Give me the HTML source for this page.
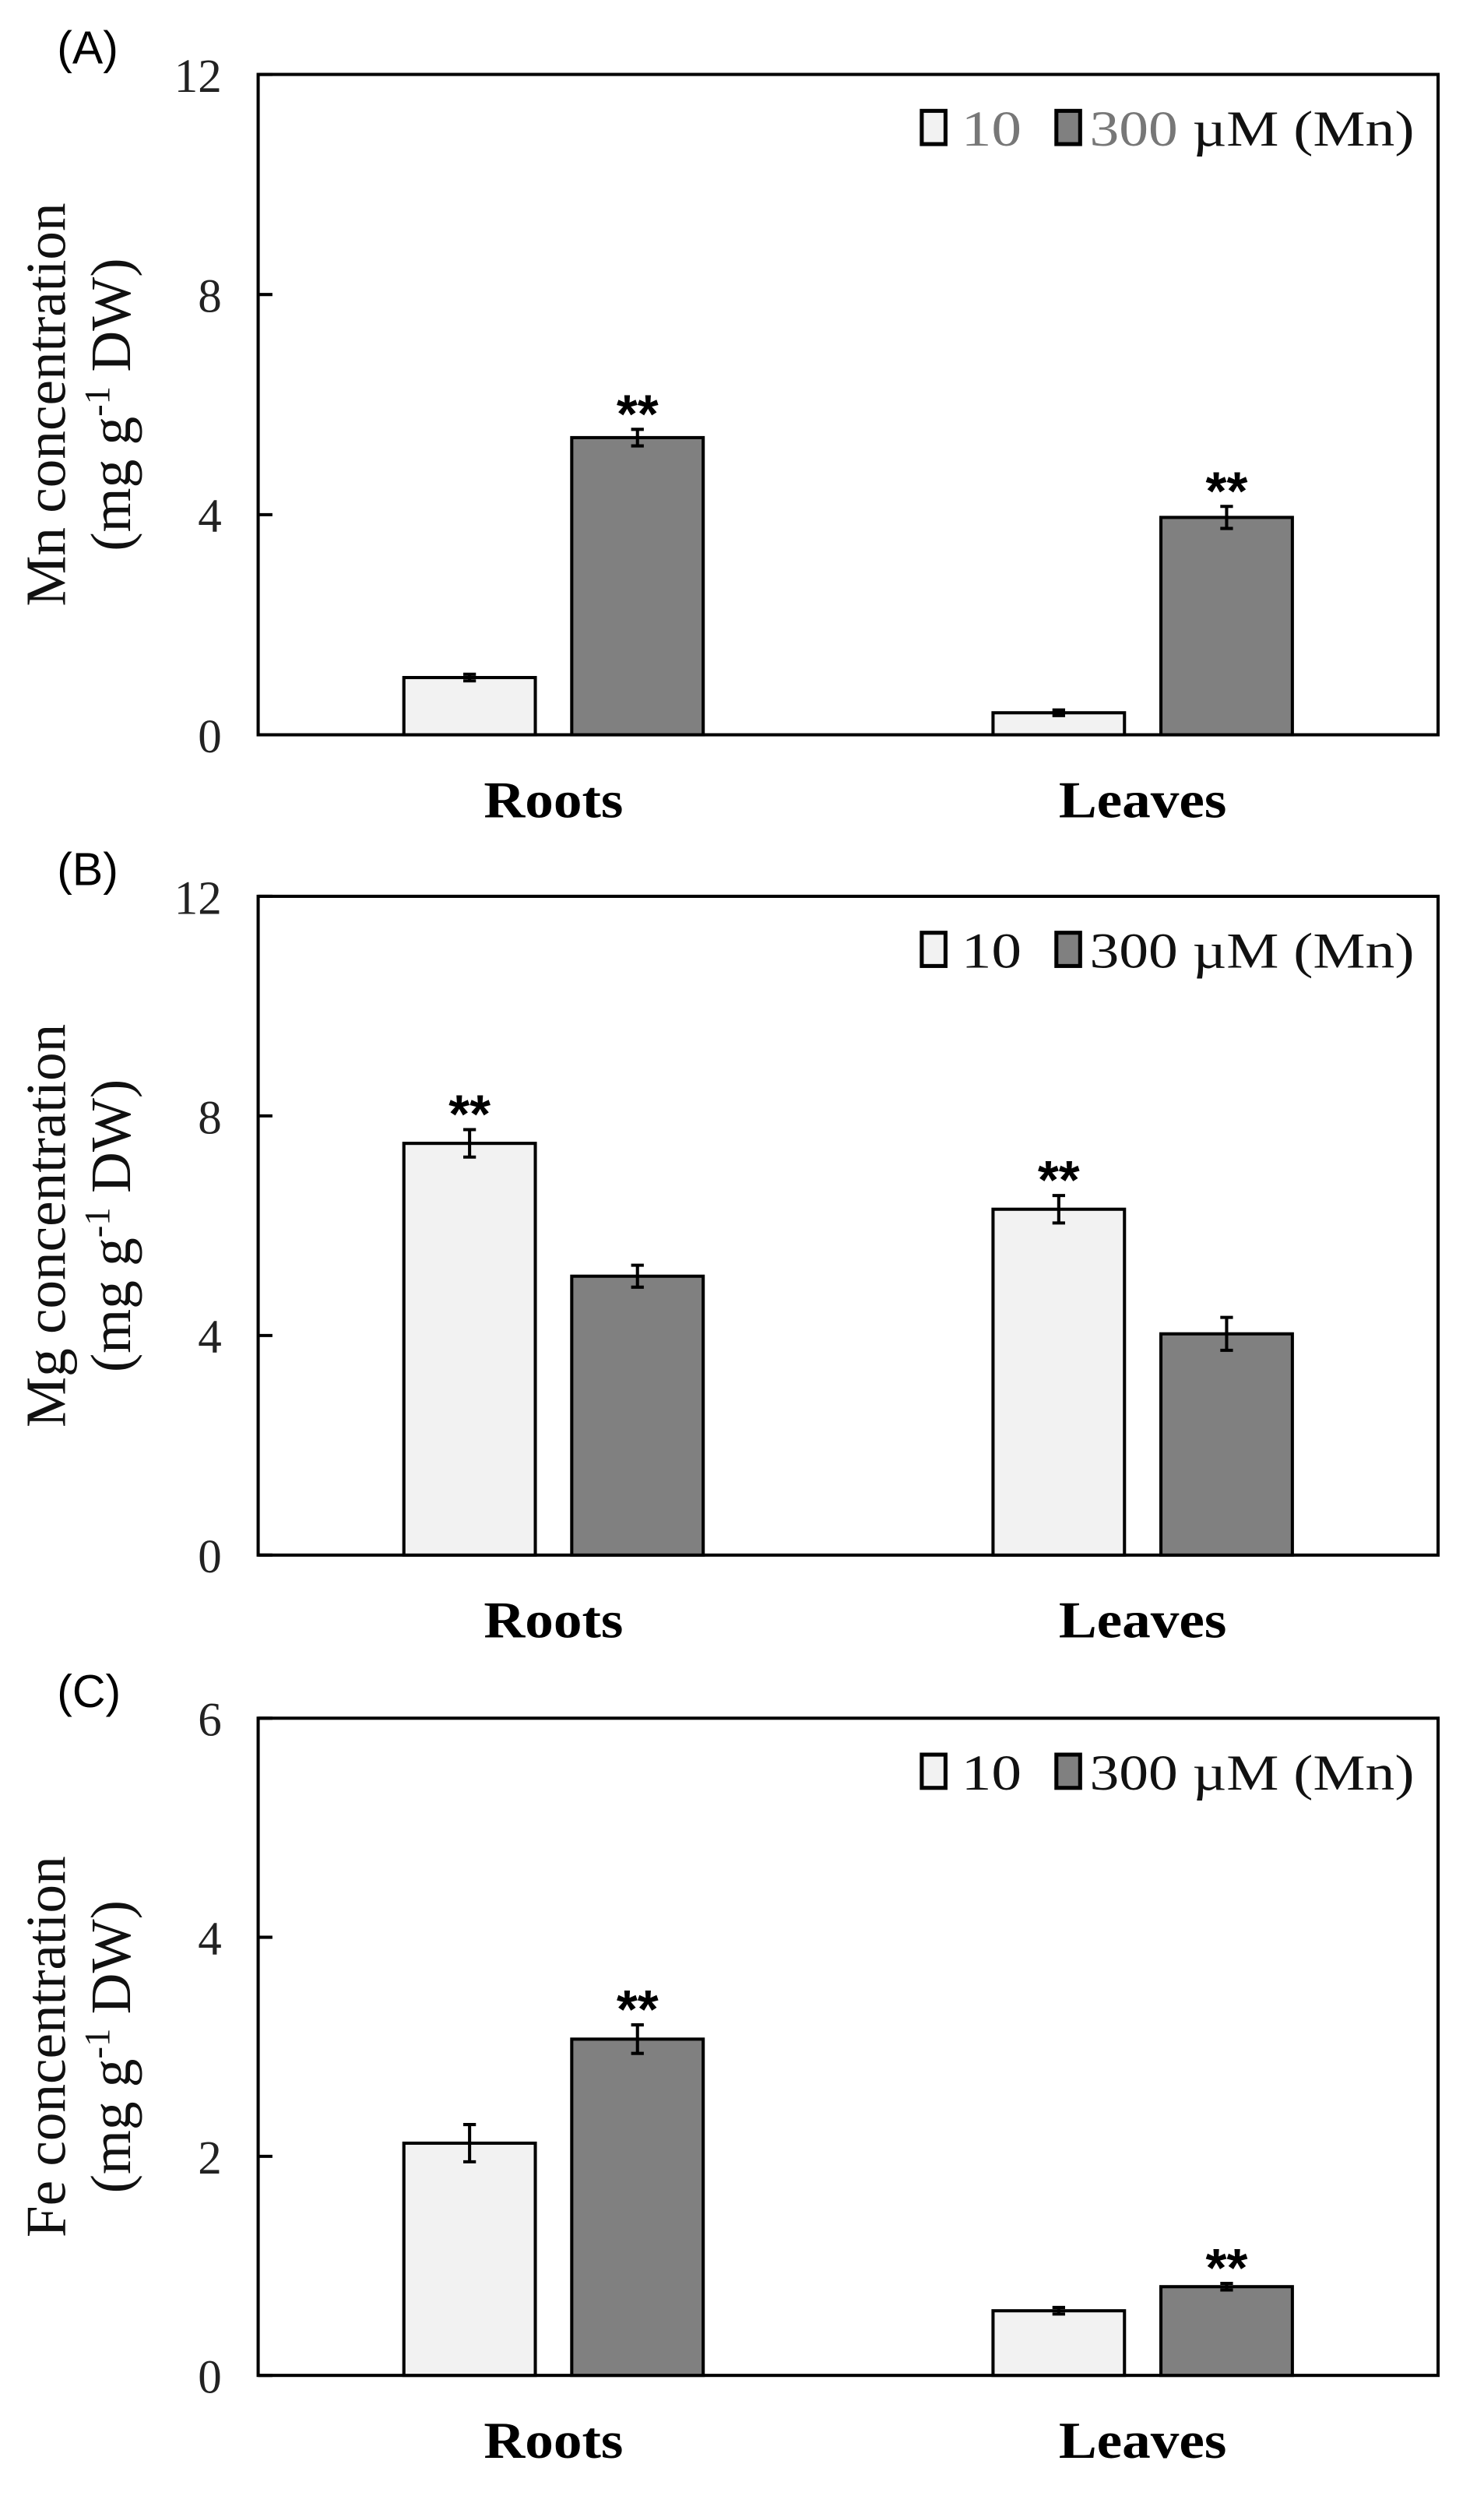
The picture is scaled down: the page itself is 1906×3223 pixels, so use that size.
<!DOCTYPE html>
<html><head><meta charset="utf-8"><style>html,body{margin:0;padding:0;background:#fff}svg{display:block}</style></head>
<body>
<svg id="fig" width="1906" height="3223" viewBox="0 0 937 1585" preserveAspectRatio="none" xmlns="http://www.w3.org/2000/svg"></svg>
<script>
const categories = ["Roots", "Leaves"];
const panelLabels = ["(A)", "(B)", "(C)"];
const yTitles = ["Mn concentration", "Mg concentration", "Fe concentration"];
const yMaxes = [12, 12, 6];
const tickLabelsA = [0, 4, 8, 12];
const tickLabelsB = [0, 4, 8, 12];
const tickLabelsC = [0, 2, 4, 6];
const lowA = [1.04, 0.4];   const highA = [5.4, 3.95];
const lowErrA = [0.06, 0.05]; const highErrA = [0.15, 0.2];
const lowB = [7.5, 6.3];    const highB = [5.08, 4.03];
const lowErrB = [0.25, 0.25]; const highErrB = [0.2, 0.3];
const lowC = [2.12, 0.59];  const highC = [3.07, 0.81];
const lowErrC = [0.17, 0.03]; const highErrC = [0.13, 0.03];
const starsLow = [[false,false],[true,true],[false,false]];
const starsHigh = [[true,true],[false,false],[true,true]];

const svg = document.getElementById('fig');
const NS = 'http://www.w3.org/2000/svg';
function mk(tag, attrs, parent, txt){
  const e = document.createElementNS(NS, tag);
  for (const k in attrs) e.setAttribute(k, attrs[k]);
  if (txt !== undefined) e.textContent = txt;
  (parent || svg).appendChild(e);
  return e;
}
const panels = [
  {top:47, bottom:464, ticks:tickLabelsA, low:lowA, high:highA, le:lowErrA, he:highErrA, legendGray:true},
  {top:566, bottom:982, ticks:tickLabelsB, low:lowB, high:highB, le:lowErrB, he:highErrB, legendGray:false},
  {top:1085, bottom:1500, ticks:tickLabelsC, low:lowC, high:highC, le:lowErrC, he:highErrC, legendGray:false}
];
const L = 163, R = 908;
const groupLeft = [255, 627];
const barW = 83, gap = 23;
const serif = '"Liberation Serif", serif';

panels.forEach((p, i) => {
  const g = mk('g', {});
  
  
  const y = v => p.bottom - v / yMaxes[i] * (p.bottom - p.top);

  const pl = mk('text', {x: 36, y: p.top - 7, 'font-family': '"Liberation Sans", sans-serif', 'font-size': 29}, g, panelLabels[i]);
  
  

  const fr = mk('rect', {x: L, y: p.top, width: R - L, height: p.bottom - p.top, fill: 'none', stroke: '#000', 'stroke-width': 2}, g);
  
  

  p.ticks.forEach(t => {
    const ty = y(t);
    const tl = mk('line', {x1: L, x2: L + 9, y1: ty, y2: ty, stroke: '#000', 'stroke-width': 2}, g);
    
    
    const tx = mk('text', {x: 140, y: ty + 11, 'text-anchor': 'end', 'font-family': serif, 'font-size': 30, fill: '#222'}, g, String(t));
    
    
  });

  const cy = (p.top + p.bottom) / 2;
  const t1 = mk('text', {x: 0, y: 0, transform: `translate(41 ${cy}) rotate(-90)`, 'text-anchor': 'middle', 'font-family': serif, 'font-size': 36, fill: '#111'}, g, yTitles[i]);
  
  
  const t2 = mk('text', {x: 0, y: 0, transform: `translate(82 ${cy}) rotate(-90)`, 'text-anchor': 'middle', 'font-family': serif, 'font-size': 36, fill: '#111'}, g);
  
  
  mk('tspan', {}, t2, '(mg g');
  mk('tspan', {dy: -13, 'font-size': 23}, t2, '-1');
  mk('tspan', {dy: 13}, t2, ' DW)');

  categories.forEach((c, k) => {
    const x0 = groupLeft[k];
    [[p.low[k], p.le[k], '#f2f2f2', starsLow[i][k], x0], [p.high[k], p.he[k], '#808080', starsHigh[i][k], x0 + barW + gap]].forEach((b, s) => {
      const [v, e, col, star, bx] = b;
      const r = mk('rect', {x: bx, y: y(v), width: barW, height: p.bottom - y(v), fill: col, stroke: '#000', 'stroke-width': 2}, g);
      
      
      const cx = bx + barW / 2;
      const eb = mk('path', {d: `M${cx} ${y(v + e)}V${y(v - e)}M${cx - 4} ${y(v + e)}H${cx + 4}M${cx - 4} ${y(v - e)}H${cx + 4}`, stroke: '#000', 'stroke-width': 2, fill: 'none'}, g);
      
      
      if (star) {
        const st = mk('text', {x: cx, y: y(v + e) + 2, 'text-anchor': 'middle', 'font-family': '"Liberation Sans", sans-serif', 'font-weight': 'bold', 'font-size': 34}, g, '**');
        
        
      }
    });
    const cl = mk('text', {x: x0 + barW + gap / 2, y: p.bottom + 52, 'text-anchor': 'middle', 'font-family': serif, 'font-weight': 'bold', 'font-size': 33, textLength: c === 'Roots' ? 88 : 106, lengthAdjust: 'spacingAndGlyphs'}, g, c);
    
    
  });

  const ly = p.top + 23;
  const lg = mk('g', {}, g);
  
  
  const s1 = mk('rect', {x: 582, y: ly, width: 15, height: 21, fill: '#f2f2f2', stroke: '#000', 'stroke-width': 2.5}, lg);
  
  
  const lt1 = mk('text', {x: 607, y: ly + 22, 'font-family': serif, 'font-size': 32, fill: p.legendGray ? '#777' : '#111', textLength: 38, lengthAdjust: 'spacingAndGlyphs'}, lg, '10');
  
  
  const s2 = mk('rect', {x: 667, y: ly, width: 15, height: 21, fill: '#808080', stroke: '#000', 'stroke-width': 2.5}, lg);
  
  
  const lt2 = mk('text', {x: 688, y: ly + 22, 'font-family': serif, 'font-size': 32, fill: '#111', textLength: 205, lengthAdjust: 'spacingAndGlyphs'}, lg);
  
  
  mk('tspan', {fill: p.legendGray ? '#777' : '#111'}, lt2, '300');
  mk('tspan', {}, lt2, ' µM (Mn)');
});
</script>
</body></html>
